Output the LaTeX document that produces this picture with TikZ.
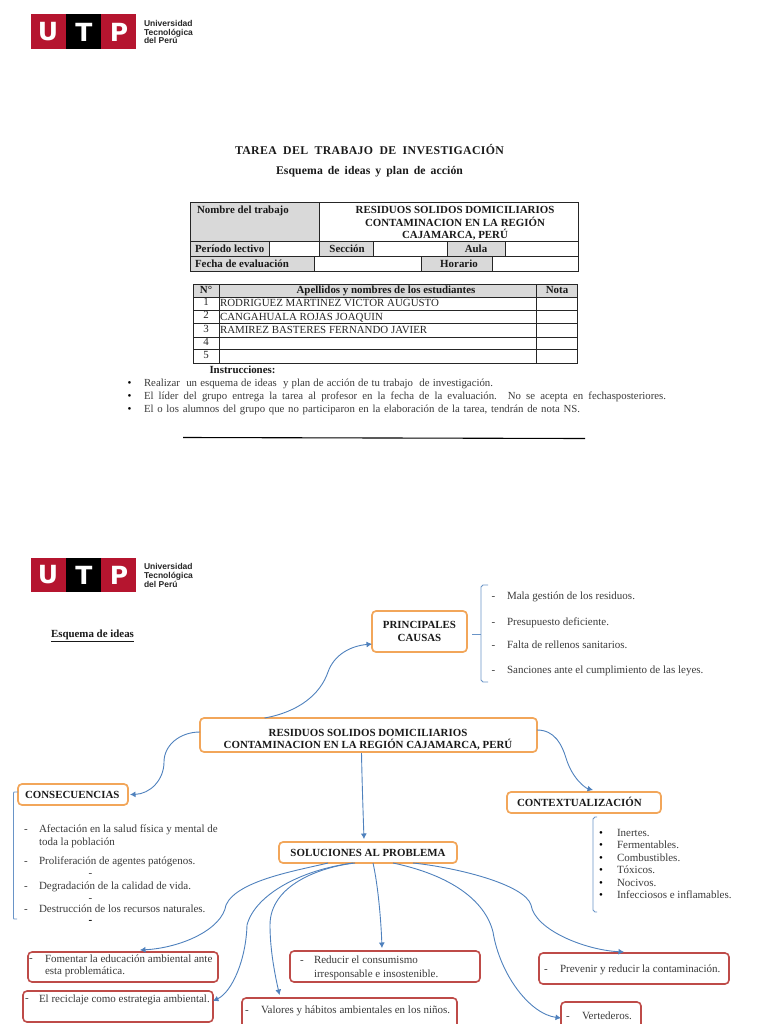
\documentclass[tikz,border=0pt]{standalone}
\usepackage{fontspec}
\setmainfont{Liberation Serif}
\newfontfamily\logofont{Liberation Sans}
\newfontfamily\logoheavy{DejaVu Sans}
\usetikzlibrary{arrows.meta}
\definecolor{utpred}{HTML}{B5152F}
\definecolor{cellgray}{HTML}{D9D9D9}
\definecolor{boxorange}{HTML}{F2A65A}
\definecolor{boxred}{HTML}{BE4B48}
\definecolor{linkblue}{HTML}{4F81BD}
\definecolor{bodygray}{HTML}{3A3A3A}
\tikzset{
  txt/.style={anchor=base west,inner sep=0pt,outer sep=0pt,text=bodygray,font=\fontsize{11}{13}\selectfont},
  instr/.style={txt,font=\fontsize{10.8}{13}\selectfont},
  tbl/.style={txt,text=black!85,font=\fontsize{10.9}{13}\selectfont},
  ctr/.style={tbl,anchor=base},
  hd/.style={anchor=base,inner sep=0pt,outer sep=0pt,text=black!90,font=\fontsize{10.9}{12.5}\selectfont\bfseries},
  hdl/.style={hd,anchor=base west},
  cell/.style={draw=black!85,line width=1pt},
  graycell/.style={cell,fill=cellgray},
  obox/.style={draw=boxorange,line width=1.7pt,rounded corners=4pt,fill=white,inner sep=0pt,outer sep=0pt,align=center,text=black!90,font=\fontsize{10.9}{13.5}\selectfont\bfseries},
  rbox/.style={draw=boxred,line width=1.6pt,rounded corners=4pt,fill=white,inner sep=0pt,outer sep=0pt},
  link/.style={draw=linkblue,line width=0.9pt,-{Latex[length=5.5pt,width=6pt]}},
  brace/.style={draw=linkblue!85,line width=0.9pt},
  lg/.style={inner sep=0pt,outer sep=0pt,text=white,font=\logoheavy\bfseries\fontsize{25}{25}\selectfont},
  lgt/.style={anchor=west,inner sep=0pt,outer sep=0pt,align=left,text=black!85,font=\logofont\bfseries\fontsize{8.5}{8.8}\selectfont}
}
\begin{document}
\begin{tikzpicture}[x=1pt,y=-1pt]
\useasboundingbox (0,0) rectangle (768,1024);
% logos
\fill[utpred] (31,14) rectangle (66,49);
\fill[black] (66,14) rectangle (101,49);
\fill[utpred] (101,14) rectangle (136,49);
\node[lg] (la) at (48,32) {U};
\node[lg] (lb) at (84,32) {T};
\node[lg] (lc) at (119,32) {P};
\node[lgt] (ld) at (144,32) {Universidad\\Tecnológica\\del Perú};
\fill[utpred] (31,558) rectangle (66,592);
\fill[black] (66,558) rectangle (101,592);
\fill[utpred] (101,558) rectangle (136,592);
\node[lg] (ma) at (48,575) {U};
\node[lg] (mb) at (84,575) {T};
\node[lg] (mc) at (119,575) {P};
\node[lgt] (md) at (144,575.5) {Universidad\\Tecnológica\\del Perú};
% titles
\node[hd,font=\fontsize{11.8}{13}\selectfont\bfseries\addfontfeature{LetterSpace=3}] (t1) at (369.5,155) {\makebox[269pt][s]{TAREA DEL TRABAJO DE INVESTIGACIÓN}};
\node[hd,font=\fontsize{11.7}{13}\selectfont\bfseries\addfontfeature{LetterSpace=1}] (t2) at (369.5,175) {\makebox[187pt][s]{Esquema de ideas y plan de acción}};
% table 1
\path[graycell] (190,203) rectangle (319,241);
\path[cell] (319,203) rectangle (578,241);
\path[graycell] (190,241) rectangle (269,256);
\path[cell] (269,241) rectangle (319,256);
\path[graycell] (319,241) rectangle (373,256);
\path[cell] (373,241) rectangle (447,256);
\path[graycell] (447,241) rectangle (505,256);
\path[cell] (505,241) rectangle (578,256);
\path[graycell] (190,256) rectangle (314,271);
\path[cell] (314,256) rectangle (421,271);
\path[graycell] (421,256) rectangle (492,271);
\path[cell] (492,256) rectangle (578,271);
\node[hdl] (a1) at (197,214) {Nombre del trabajo};
\node[hd] (a2) at (455,214) {RESIDUOS SOLIDOS DOMICILIARIOS};
\node[hd] (a3) at (455,226) {CONTAMINACION EN LA REGIÓN};
\node[hd] (a4) at (455,238) {CAJAMARCA, PERÚ};
\node[hdl] (a5) at (195,252) {Período lectivo};
\node[hd] (a6) at (347,252) {Sección};
\node[hd] (a7) at (476,252) {Aula};
\node[hdl] (a8) at (195,267) {Fecha de evaluación};
\node[hd] (a9) at (459,267) {Horario};
% table 2
\path[graycell] (193,284) rectangle (219,297);
\path[graycell] (219,284) rectangle (536,297);
\path[graycell] (536,284) rectangle (577,297);
\foreach \ya/\yb in {297/310,310/323,323/337,337/349,349/363}{
  \path[cell] (193,\ya) rectangle (219,\yb);
  \path[cell] (219,\ya) rectangle (536,\yb);
  \path[cell] (536,\ya) rectangle (577,\yb);
}
\node[hd] (b1) at (206,293) {N°};
\node[hd] (b2) at (386,293) {Apellidos y nombres de los estudiantes};
\node[hd] (b3) at (557,293) {Nota};
\node[ctr] (n1) at (206,305) {1};
\node[ctr] (n2) at (206,318.5) {2};
\node[ctr] (n3) at (206,332) {3};
\node[ctr] (n4) at (206,345) {4};
\node[ctr] (n5) at (206,358) {5};
\node[tbl] (s1) at (220,306) {RODRIGUEZ MARTINEZ VICTOR AUGUSTO};
\node[tbl] (s2) at (220,320) {CANGAHUALA ROJAS JOAQUIN};
\node[tbl] (s3) at (220,333) {RAMIREZ BASTERES FERNANDO JAVIER};
% instructions
\node[hdl] (i0) at (209.5,373) {Instrucciones:};
\node[txt,text=black] (i1) at (127.5,386) {•};
\node[txt,text=black] (i2) at (127.5,399) {•};
\node[txt,text=black] (i3) at (127.5,412) {•};
\node[instr] (i4) at (144,386) {\makebox[349pt][s]{Realizar\ \ un esquema de ideas\ \ y plan de acción de tu trabajo\ \ de investigación.}};
\node[instr] (i5) at (144,399) {\makebox[522pt][s]{El líder del grupo entrega la tarea al profesor en la fecha de la evaluación. No se acepta en fechasposteriores.}};
\node[instr] (i6) at (144,412) {\makebox[436pt][s]{El o los alumnos del grupo que no participaron en la elaboración de la tarea, tendrán de nota NS.}};
\coordinate (rl) at (183,437.5);
\coordinate (rr) at (585,438.5);
\draw[black,line width=1.1pt] (rl) -- (rr);
% map heading
\node[hdl] (e1) at (51,637) {\underline{Esquema de ideas}};
% boxes
\node[obox,minimum width=95pt,minimum height=41pt] (causas) at (419.5,631.5) {PRINCIPALES\\CAUSAS};
\node[obox,minimum width=337pt,minimum height=34pt] (main) at (368.5,735) {};
\node[hd] (mainl) at (368,736) {RESIDUOS SOLIDOS DOMICILIARIOS};
\node[hd] (mainm) at (368,748) {CONTAMINACION EN LA REGIÓN CAJAMARCA, PERÚ};
\node[obox,minimum width=110pt,minimum height=21pt,anchor=center] (cons) at (73,794.5) {};
\node[hdl] (consl) at (25,798) {CONSECUENCIAS};
\node[obox,minimum width=154pt,minimum height=21pt] (contex) at (584,802.5) {};
\node[hdl] (contexl) at (517,806) {CONTEXTUALIZACIÓN};
\node[obox,minimum width=178pt,minimum height=21pt] (sol) at (368,852.5) {};
\node[hd] (soll) at (368,856.5) {SOLUCIONES AL PROBLEMA};
\node[rbox,minimum width=190pt,minimum height=30pt] (fom) at (123,967) {};
\node[rbox,minimum width=190pt,minimum height=31pt] (rec) at (118,1006.5) {};
\node[rbox,minimum width=215pt,minimum height=34pt] (val) at (349.5,1015) {};
\node[rbox,minimum width=190pt,minimum height=31pt] (red) at (385,966.5) {};
\node[rbox,minimum width=190pt,minimum height=31pt] (pre) at (634,968.5) {};
\node[rbox,minimum width=80pt,minimum height=34pt] (ver) at (601,1019) {};
% box texts
\node[txt] (f0) at (29,961) {-};
\node[txt] (f1) at (45,962) {Fomentar la educación ambiental ante};
\node[txt] (f2) at (45,974) {esta problemática.};
\node[txt] (r0) at (25,1001) {-};
\node[txt] (r1) at (39,1002) {El reciclaje como estrategia ambiental.};
\node[txt] (v0) at (245,1013) {-};
\node[txt] (v1) at (261,1013) {Valores y hábitos ambientales en los niños.};
\node[txt] (u0) at (300,963) {-};
\node[txt] (u1) at (314,963) {Reducir el consumismo};
\node[txt] (u2) at (314,977) {irresponsable e insostenible.};
\node[txt] (p0) at (544,972) {-};
\node[txt] (p1) at (560,972) {Prevenir y reducir la contaminación.};
\node[txt] (w0) at (566,1019) {-};
\node[txt] (w1) at (582,1019) {Vertederos.};
% causes list
\node[txt] (c01) at (491.5,599) {-};
\node[txt] (c1) at (507,599) {Mala gestión de los residuos.};
\node[txt] (c02) at (491.5,625) {-};
\node[txt] (c2) at (507,625) {Presupuesto deficiente.};
\node[txt] (c03) at (491.5,648) {-};
\node[txt] (c3) at (507,648) {Falta de rellenos sanitarios.};
\node[txt] (c04) at (491.5,673) {-};
\node[txt] (c4) at (507,673) {Sanciones ante el cumplimiento de las leyes.};
% consequences list
\node[txt] (k01) at (24,832) {-};
\node[txt] (k1) at (39,832) {Afectación en la salud física y mental de};
\node[txt] (k1b) at (39,845) {toda la población};
\node[txt] (k02) at (24,864) {-};
\node[txt] (k2) at (39,864) {Proliferación de agentes patógenos.};
\node[txt] (k03) at (24,889) {-};
\node[txt] (k3) at (39,889) {Degradación de la calidad de vida.};
\node[txt] (k04) at (24,912) {-};
\node[txt] (k4) at (39,912) {Destrucción de los recursos naturales.};
\node[txt] (x1) at (88.5,876) {-};
\node[txt] (x2) at (88.5,901) {-};
\node[txt,font=\fontsize{11}{13}\selectfont\bfseries,text=black] (x3) at (88.5,923) {-};
% context list
\foreach \n/\yy/\t in {1/836/Inertes.,2/848/Fermentables.,3/861/Combustibles.,4/873/Tóxicos.,5/886/Nocivos.,6/898/Infecciosos e inflamables.}{
  \node[txt,text=black] (g\n b) at (599,\yy) {•};
  \node[txt] (g\n) at (617,\yy) {\t};
}
% brackets
\coordinate (bc) at (481,634);
\draw[brace] (causas.east) ++(5,2.5) -- (bc);
\draw[brace] (488,585) -- (483,585) -- (481,587) -- (481,680) -- (483,682) -- (488,682);
\draw[brace] (18,792) -- (14,792) -- (13.5,793) -- (13.5,918) -- (14,919) -- (17,919);
\draw[brace,line width=0.8pt] (597,817) -- (595,817) -- (593,819) -- (593,910) -- (595,912) -- (597,912);
% connectors
\draw[link] ([xshift=-104pt]main.north) .. controls (298,712) and (320,695) .. (328,672) .. controls (334,655) and (350,646) .. ([yshift=-12.5pt]causas.west);
\draw[link] ([yshift=3pt]main.west) .. controls (180,732) and (164,745) .. (164,762) .. controls (164,780) and (150,794) .. ([xshift=2pt]cons.east);
\draw[link] ([xshift=-7pt,yshift=-1pt]main.south) .. controls (362,780) and (363,810) .. ([xshift=-4pt,yshift=3pt]sol.north);
\draw[link] ([yshift=5pt]main.east) .. controls (555,730) and (562,745) .. (566,758) .. controls (572,778) and (585,788) .. ([xshift=9pt,yshift=2pt]contex.north);
\draw[link] ([xshift=-40pt]sol.south) .. controls (300,870) and (237,880) .. (226,905) .. controls (222,930) and (180,948) .. ([xshift=17pt,yshift=2pt]fom.north);
\draw[link] ([xshift=-15pt]sol.south) .. controls (300,870) and (255,895) .. (247,925) .. controls (246,960) and (232,992) .. ([yshift=5.5pt]rec.east);
\draw[link] ([xshift=-13pt]sol.south) .. controls (320,867) and (270,885) .. (270,925) .. controls (270,950) and (275,975) .. ([xshift=-70pt,yshift=3pt]val.north);
\draw[link] ([xshift=5pt]sol.south) .. controls (378,885) and (381,920) .. ([xshift=-3pt,yshift=3pt]red.north);
\draw[link] ([xshift=25pt]sol.south) .. controls (450,875) and (485,900) .. (493,932) .. controls (500,975) and (530,1014) .. ([yshift=1pt]ver.west);
\draw[link] ([xshift=45pt]sol.south) .. controls (460,868) and (525,885) .. (531,905) .. controls (535,930) and (585,950) .. ([xshift=-10pt,yshift=1pt]pre.north);
\end{tikzpicture}
\end{document}
